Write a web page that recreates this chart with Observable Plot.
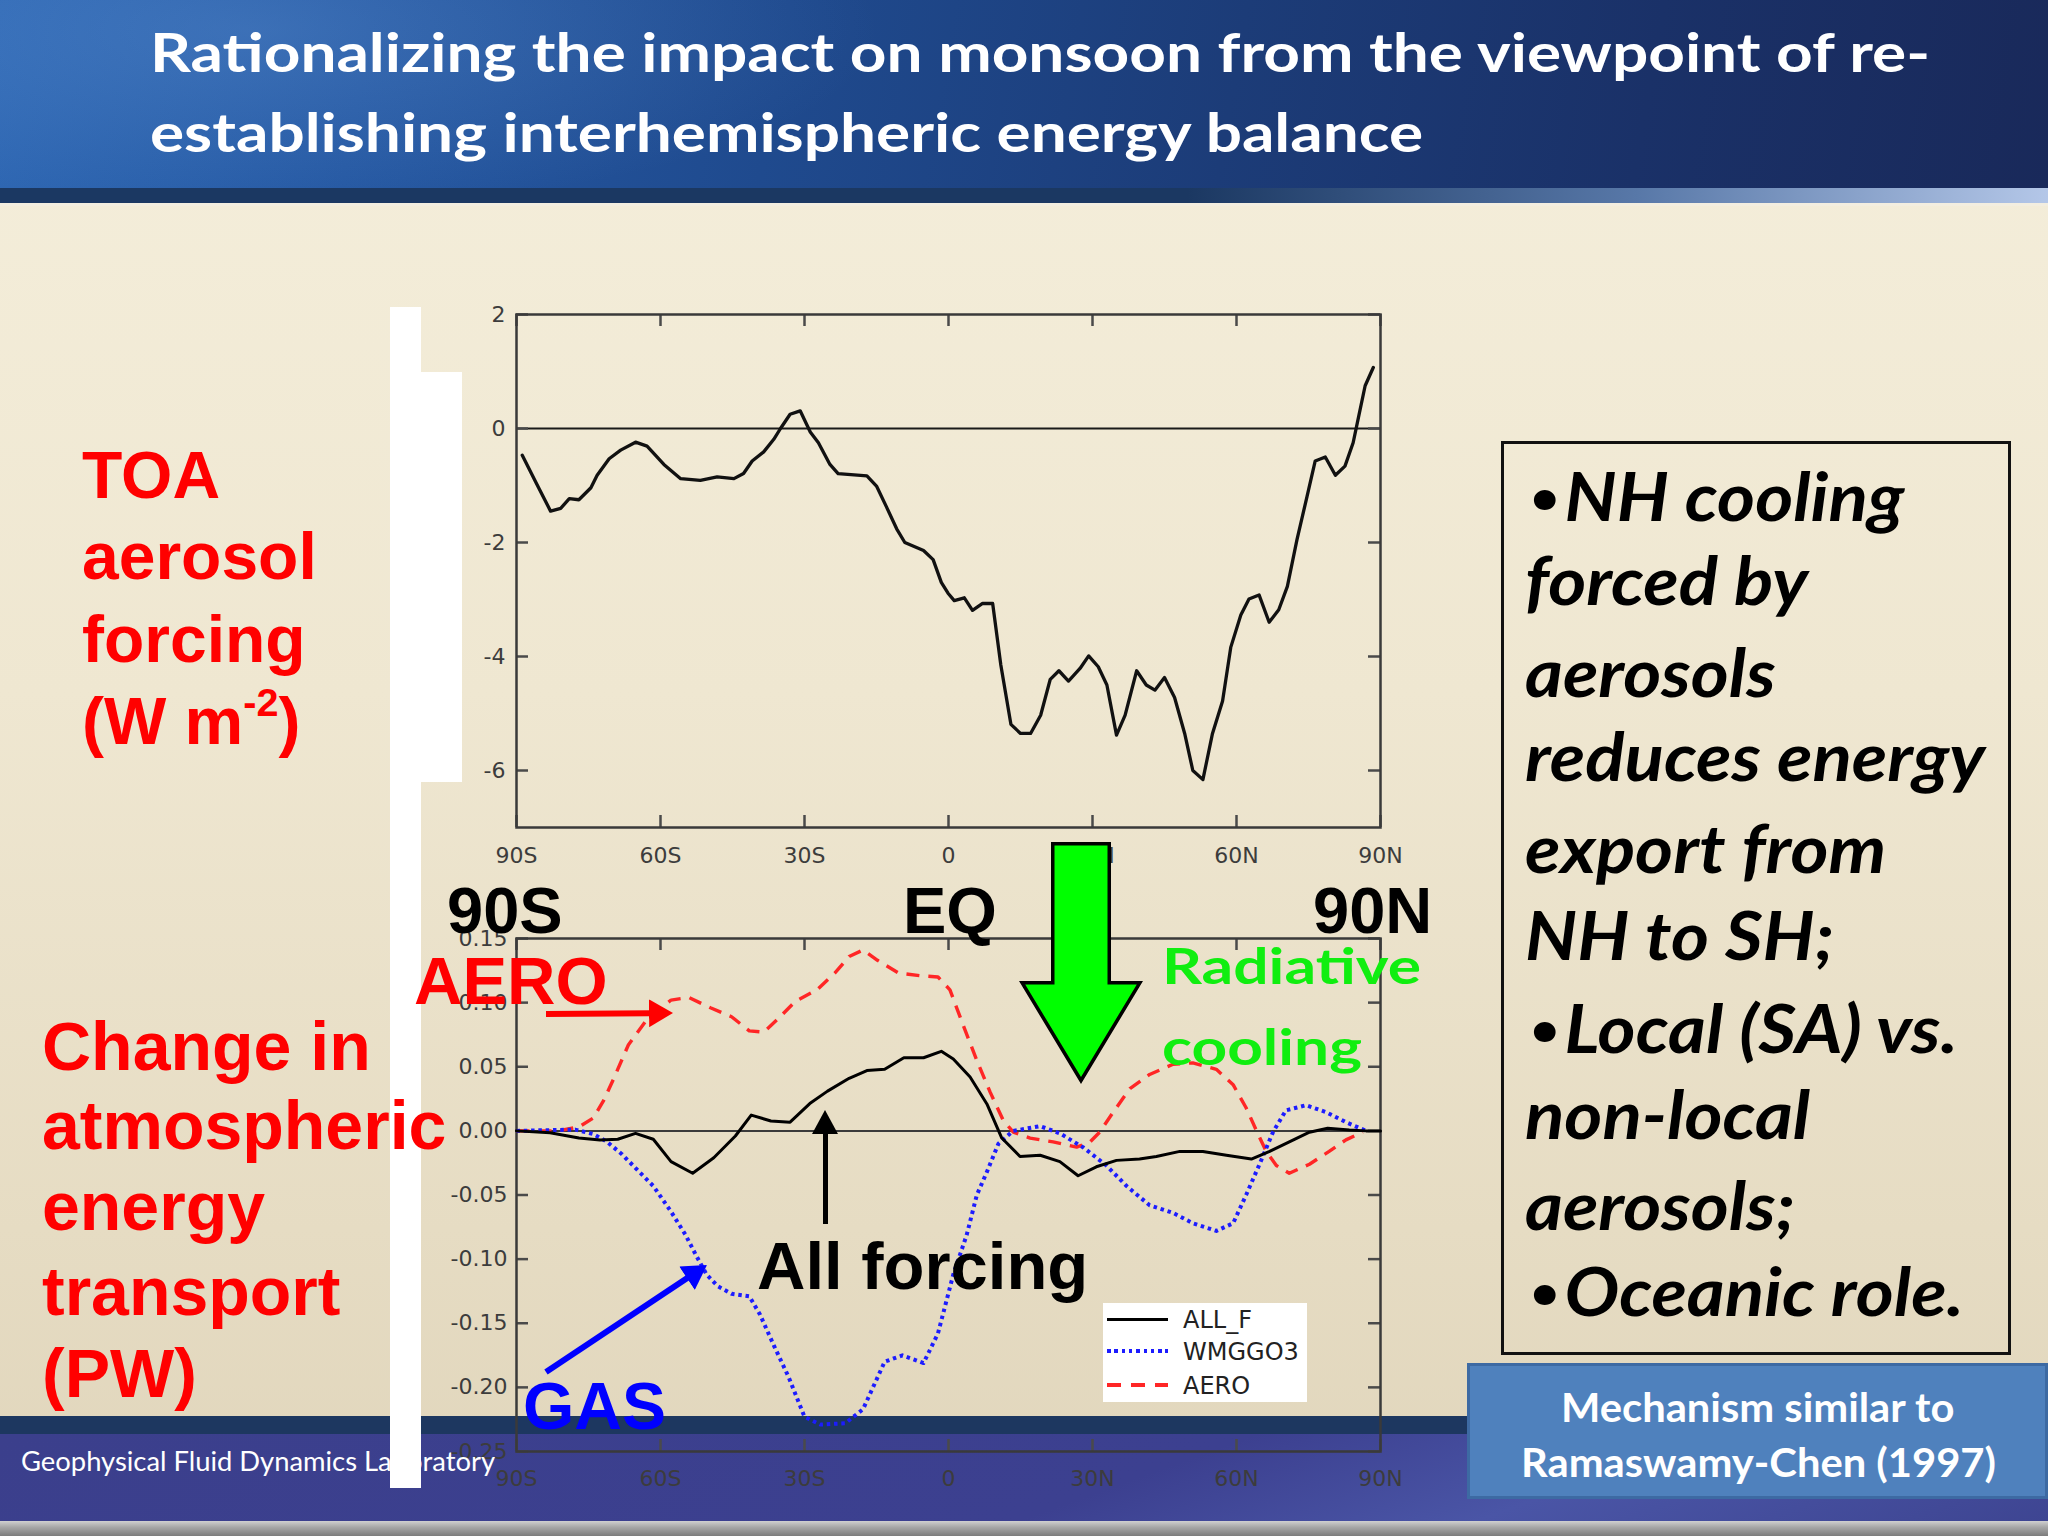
<!DOCTYPE html>
<html><head><meta charset="utf-8">
<script src="https://cdn.jsdelivr.net/npm/d3@7"></script>
<script src="https://cdn.jsdelivr.net/npm/@observablehq/plot@0.6"></script>
<style>
html,body{margin:0;padding:0;}
body{width:2048px;height:1536px;overflow:hidden;position:relative;
 background:linear-gradient(180deg,#f5efdc 0%,#efe7d1 45%,#e6dcc3 80%,#e0d5bb 100%);}
.t{position:absolute;white-space:nowrap;line-height:1;transform-origin:0 0;}
.bl{display:inline-block;width:0;height:0;vertical-align:baseline;}
</style></head><body>
<script>
// ---------------- DATA ----------------
const latTicks  = [-90, -60, -30, 0, 30, 60, 90];
const latLabels = ["90S", "60S", "30S", "0", "30N", "60N", "90N"];
const topYTicks = [2, 0, -2, -4, -6];
const botYTicks = [0.15, 0.10, 0.05, 0.00, -0.05, -0.10, -0.15, -0.20, -0.25];

// TOA aerosol forcing (W m-2)
const topLat = [-88.8,-86,-82.9,-80.8,-79,-77,-74.5,-73.2,-70.7,-68.3,-65.2,-62.8,-59.3,-55.8,-51.7,-48.2,-44.7,-42.7,-40.9,-38.5,-36.4,-35,-33,-30.9,-28.8,-27.1,-24.7,-23,-17,-15,-12.9,-10.8,-9.1,-5.2,-3.2,-1.5,-0.1,1.2,3.3,5,7.1,9.2,10.9,13,15,17.1,19.2,21.2,23,25,27.4,29.2,31.2,33,35,36.8,39.2,41.2,43,45,47.1,49.2,50.9,53,55,57.1,58.8,60.9,62.6,64.7,66.8,68.8,70.6,72.6,74.7,76.4,78.5,80.6,82.6,84.3,85.4,86.8,88.5];
const topVal = [-0.47,-0.94,-1.45,-1.40,-1.23,-1.25,-1.04,-0.82,-0.53,-0.38,-0.24,-0.31,-0.63,-0.88,-0.91,-0.85,-0.88,-0.79,-0.57,-0.41,-0.19,0,0.25,0.31,-0.06,-0.25,-0.63,-0.79,-0.83,-1.01,-1.38,-1.76,-2.0,-2.14,-2.30,-2.70,-2.89,-3.02,-2.97,-3.19,-3.07,-3.07,-4.15,-5.19,-5.35,-5.35,-5.03,-4.40,-4.25,-4.43,-4.21,-3.99,-4.18,-4.50,-5.38,-5.03,-4.25,-4.50,-4.59,-4.37,-4.72,-5.35,-6.0,-6.16,-5.35,-4.78,-3.84,-3.27,-2.99,-2.92,-3.40,-3.18,-2.77,-1.95,-1.19,-0.57,-0.50,-0.82,-0.66,-0.25,0.19,0.75,1.07];

// Change in atmospheric energy transport (PW)
const allLat = [-90,-83,-77,-72.6,-68.9,-65.2,-61.5,-57.8,-53.3,-48.9,-44.4,-41.1,-37,-33,-28.9,-25.2,-20.7,-17,-13.3,-9.3,-5.2,-1.5,1,4.5,8,11.1,14.9,19.1,23.2,27,30.8,35,39.8,43.3,48.2,53,57.9,63.1,66.9,71,75.2,79,83.5,87,90];
const allVal = [0,-0.0015,-0.0056,-0.0071,-0.0065,-0.0019,-0.0065,-0.024,-0.033,-0.021,-0.004,0.0123,0.0077,0.0068,0.0213,0.031,0.041,0.047,0.048,0.057,0.057,0.062,0.056,0.042,0.021,-0.0056,-0.020,-0.019,-0.024,-0.035,-0.028,-0.023,-0.022,-0.020,-0.016,-0.016,-0.019,-0.022,-0.016,-0.0086,-0.001,0.002,0.0006,0,0];

const gasLat = [-90,-83,-77.8,-74,-71.1,-68.1,-65.2,-61.5,-57.8,-54.8,-52.6,-50.4,-48.1,-45.2,-41.5,-39.3,-36.3,-33.3,-30,-26.7,-21.5,-17.8,-13.3,-9.6,-5.2,-2.2,1,3.8,5.9,8,10.4,13.5,19.1,23.2,28.1,32.9,37.1,41.9,46.8,50.9,55.8,59.3,62,64.8,67.6,70.3,74.5,78.7,82.8,87];
const gasVal = [0,0.0006,0.001,-0.0025,-0.0086,-0.018,-0.029,-0.043,-0.063,-0.081,-0.097,-0.112,-0.121,-0.127,-0.129,-0.143,-0.168,-0.192,-0.223,-0.229,-0.228,-0.217,-0.180,-0.175,-0.181,-0.158,-0.112,-0.081,-0.050,-0.032,-0.010,0,0.0037,-0.0019,-0.013,-0.027,-0.043,-0.058,-0.064,-0.072,-0.078,-0.072,-0.050,-0.026,-0.001,0.016,0.020,0.0145,0.0068,0];

const aeroLat = [-90,-81.5,-77,-74,-71.8,-69.6,-66.7,-63,-57.8,-54.1,-49.6,-45.2,-41.5,-38.5,-35.6,-31.9,-27.4,-23.7,-20.7,-17.8,-14.8,-10.4,-5.9,-2.2,0.3,3.1,5.9,8.7,11.4,13.5,17,21.8,26.7,29.5,31.5,34.3,37.8,41.9,46.8,50.9,55.8,59.3,62,64.1,66.2,68.3,71,75.2,79.3,82.8,86.3];
const aeroVal = [0,0,0.003,0.010,0.024,0.042,0.067,0.086,0.102,0.104,0.096,0.089,0.078,0.077,0.087,0.101,0.110,0.123,0.136,0.141,0.133,0.123,0.121,0.120,0.110,0.082,0.055,0.030,0.0083,-0.001,-0.0056,-0.0086,-0.0127,-0.0086,-0.001,0.0145,0.033,0.044,0.052,0.053,0.048,0.036,0.018,0.0006,-0.016,-0.027,-0.033,-0.026,-0.016,-0.007,-0.001];

const seriesNames = ["ALL_F", "WMGGO3", "AERO"];

// ---------------- HELPERS ----------------
function box(x, y, w, h, style) {
  const d = document.createElement("div");
  d.style.cssText = `position:absolute;left:${x}px;top:${y}px;width:${w}px;height:${h}px;${style}`;
  document.body.appendChild(d);
  return d;
}
function text(html, o) {
  const el = document.createElement("div");
  el.className = "t";
  el.style.font = o.font;
  el.style.color = o.color || "#000";
  el.innerHTML = html + '<span class="bl"></span>';
  el.style.left = "0px"; el.style.top = "0px";
  document.body.appendChild(el);
  const r = el.getBoundingClientRect();
  const b = el.querySelector(".bl").getBoundingClientRect().bottom - r.top;
  const w = r.width;
  const sx = o.scale != null ? o.scale : (o.width ? o.width / w : 1);
  const left = o.anchor === "middle" ? o.x - (w * sx) / 2 : o.x;
  el.style.left = left + "px";
  el.style.top = (o.y - b) + "px";
  el.style.transform = `scaleX(${sx})`;
  return {el, w, sx};
}
function measure(html, font) {
  const el = document.createElement("div");
  el.className = "t"; el.style.font = font; el.innerHTML = html;
  document.body.appendChild(el);
  const w = el.getBoundingClientRect().width;
  el.remove();
  return w;
}
function arrow(x1, y1, x2, y2, color, lw, hl, hw) {
  const dx = x2 - x1, dy = y2 - y1, L = Math.hypot(dx, dy), ang = Math.atan2(dy, dx) * 180 / Math.PI;
  const d = document.createElement("div");
  d.style.cssText = `position:absolute;left:${x1}px;top:${y1 - hw / 2}px;width:${L}px;height:${hw}px;transform-origin:0 50%;transform:rotate(${ang}deg);`;
  const s = document.createElement("div");
  s.style.cssText = `position:absolute;left:0;top:${(hw - lw) / 2}px;width:${L - hl + 2}px;height:${lw}px;background:${color};`;
  const h = document.createElement("div");
  h.style.cssText = `position:absolute;left:${L - hl}px;top:0;width:${hl}px;height:${hw}px;background:${color};clip-path:polygon(0 0,100% 50%,0 100%);`;
  d.append(s, h);
  document.body.appendChild(d);
}

// ---------------- SLIDE BACKGROUND ----------------
box(0, 0, 2048, 188, "background:linear-gradient(100deg,#2e67b3 0%,#2558a2 18%,#1f4a8e 38%,#1c3c78 60%,#1a3168 80%,#19295a 100%);");
box(0, 0, 2048, 188, "background:radial-gradient(ellipse 900px 260px at 250px 30px,rgba(120,170,230,0.25),rgba(0,0,0,0) 70%);");
box(0, 188, 2048, 15, "background:linear-gradient(90deg,#1b3862 0%,#1b3862 58%,#5878a8 80%,#b4c7e8 100%);");
box(0, 203, 2048, 3, "background:#f3eee0;");
// footer
box(0, 1416, 2048, 18, "background:#1d3760;");
box(0, 1434, 2048, 87, "background:linear-gradient(160deg,#3b3f8c 0%,#3c4090 55%,#4a55a6 75%,#3e4592 100%);");
box(0, 1521, 2048, 15, "background:linear-gradient(180deg,#d0d0d0 0%,#a8a8a8 40%,#7c7c7c 100%);");
// white bars
box(390, 307, 31, 1181, "background:#ffffff;");
box(420, 372, 42, 410, "background:#ffffff;");

// ---------------- CHARTS ----------------
const W = 1000, H = 600, ML = 96, MR = 40;
const innerW = W - ML - MR;
const TICK = 12;
const chartStyle = {background: "transparent", fontFamily: "'DejaVu Sans', sans-serif", fontSize: "22px", color: "#3c3c3c", overflow: "visible"};
const latFmt = d => latLabels[latTicks.indexOf(d)];

function frameTicks(yTicks, innerH) {
  const st = {stroke: "#4a4a4a", strokeWidth: 2.5};
  return [
    Plot.tickY(yTicks, {y: d => d, insetRight: innerW - TICK, ...st}),
    Plot.tickY(yTicks, {y: d => d, insetLeft: innerW - TICK, ...st}),
    Plot.tickX(latTicks, {x: d => d, insetBottom: innerH - TICK, ...st}),
    Plot.tickX(latTicks, {x: d => d, insetTop: innerH - TICK, ...st}),
    Plot.frame({stroke: "#3a3a3a", strokeWidth: 2.5})
  ];
}

// top chart
const MT1 = 24, MB1 = 63, innerH1 = H - MT1 - MB1;
const topRows = topLat.map((lat, i) => ({lat, val: topVal[i]}));
const topChart = Plot.plot({
  width: W, height: H, marginLeft: ML, marginRight: MR, marginTop: MT1, marginBottom: MB1,
  x: {domain: [-90, 90]},
  y: {domain: [-7, 2]},
  style: chartStyle,
  marks: [
    Plot.ruleY([0], {stroke: "#1a1a1a", strokeWidth: 2}),
    ...frameTicks(topYTicks, innerH1),
    Plot.line(topRows, {x: "lat", y: "val", stroke: "#111", strokeWidth: 3.3}),
    Plot.axisY({ticks: topYTicks, tickSize: 0, tickPadding: 11, tickFormat: d => String(d), label: null}),
    Plot.axisX({ticks: latTicks, tickSize: 0, tickPadding: 20, tickFormat: latFmt, label: null})
  ]
});
const c1 = box(420, 290, W, H, "");
c1.appendChild(topChart);

// bottom chart
const MT2 = 28, MB2 = 59, innerH2 = H - MT2 - MB2;
const allRows = allLat.map((lat, i) => ({lat, val: allVal[i]}));
const gasRows = gasLat.map((lat, i) => ({lat, val: gasVal[i]}));
const aeroRows = aeroLat.map((lat, i) => ({lat, val: aeroVal[i]}));
const botChart = Plot.plot({
  width: W, height: H, marginLeft: ML, marginRight: MR, marginTop: MT2, marginBottom: MB2,
  x: {domain: [-90, 90]},
  y: {domain: [-0.25, 0.15]},
  style: chartStyle,
  marks: [
    Plot.ruleY([0], {stroke: "#3a3a3a", strokeWidth: 2}),
    ...frameTicks(botYTicks, innerH2),
    Plot.line(aeroRows, {x: "lat", y: "val", stroke: "#ff2626", strokeWidth: 3.4, strokeDasharray: "13 9", strokeLinecap: "butt"}),
    Plot.line(gasRows, {x: "lat", y: "val", stroke: "#1c1cff", strokeWidth: 4, strokeDasharray: "3.5 3.8", strokeLinecap: "butt"}),
    Plot.line(allRows, {x: "lat", y: "val", stroke: "#000", strokeWidth: 3}),
    Plot.axisY({ticks: botYTicks, tickSize: 0, tickPadding: 9, tickFormat: d => d.toFixed(2), label: null}),
    Plot.axisX({ticks: latTicks, tickSize: 0, tickPadding: 19, tickFormat: latFmt, label: null})
  ]
});
const c2 = box(420, 910, W, H, "");
c2.appendChild(botChart);

// legend
box(1103, 1303, 204, 99, "background:#ffffff;");
const legendY = [1319, 1351, 1385];
box(1107, legendY[0] - 1.5, 61, 3, "background:#000;");
box(1107, legendY[1] - 2, 61, 4, "background:repeating-linear-gradient(90deg,#1c1cff 0 3.5px,transparent 3.5px 7.3px);");
box(1107, legendY[2] - 1.7, 61, 3.4, "background:repeating-linear-gradient(90deg,#ff2626 0 14px,transparent 14px 24px);");
seriesNames.forEach((n, i) => text(n, {font: "24px 'DejaVu Sans'", color: "#222", x: 1183, y: legendY[i] + 9}));

// ---------------- TITLE ----------------
const titleFont = "bold 54px Lato";
const t1 = text("Rationalizing the impact on monsoon from the viewpoint of re-", {font: titleFont, color: "#fff", x: 150, y: 72, width: 1780});
text("establishing interhemispheric energy balance", {font: titleFont, color: "#fff", x: 150, y: 152, scale: t1.sx});

// ---------------- LEFT LABELS ----------------
const red = "#ff0000";
const f1 = "bold 66px 'Liberation Sans'";
text("TOA", {font: f1, color: red, x: 82, y: 498});
text("aerosol", {font: f1, color: red, x: 82, y: 579});
text("forcing", {font: f1, color: red, x: 82, y: 662});
text('(W m<span style="font-size:0.6em;position:relative;top:-0.72em;">-2</span>)', {font: f1, color: red, x: 82, y: 744});
const f2 = "bold 68px 'Liberation Sans'";
["Change in", "atmospheric", "energy", "transport", "(PW)"].forEach((s, i) =>
  text(s, {font: f2, color: red, x: 42, y: [1070, 1149, 1230, 1315, 1397][i]}));

// ---------------- ANNOTATIONS ----------------
const f3 = "bold 65px 'Liberation Sans'";
text("90S", {font: f3, color: "#000", x: 447, y: 933});
text("EQ", {font: f3, color: "#000", x: 903, y: 933});
text("90N", {font: f3, color: "#000", x: 1313, y: 933});

// green block arrow
box(1015, 838, 132, 250, "background:#000;clip-path:polygon(36px 4px,96px 4px,96px 143px,128px 143px,66px 246px,4px 143px,36px 143px);");
box(1015, 838, 132, 250, "background:#00ff00;clip-path:polygon(39.5px 7.5px,92.5px 7.5px,92.5px 146.5px,121.8px 146.5px,66px 239px,10.2px 146.5px,39.5px 146.5px);");

text("Radiative", {font: "bold 50px Lato", color: "#10ee10", x: 1162, y: 984, width: 259});
text("cooling", {font: "bold 50px Lato", color: "#10ee10", x: 1162, y: 1065, width: 200});

text("AERO", {font: "bold 67px 'Liberation Sans'", color: red, x: 414, y: 1004});
arrow(546, 1014, 673, 1013, red, 6, 24, 28);
text("GAS", {font: "bold 66px 'Liberation Sans'", color: "#0000ff", x: 523, y: 1429});
arrow(546, 1372, 707, 1265, "#0000ff", 6, 24, 28);
text("All forcing", {font: "bold 67px 'Liberation Sans'", color: "#000", x: 757, y: 1289});
arrow(825, 1224, 825, 1110, "#000", 5, 24, 26);

// ---------------- RIGHT TEXT BOX ----------------
box(1501, 441, 510, 914, "border:3px solid #111;box-sizing:border-box;");
const bf = "italic bold 66px Lato";
const refW = measure("reduces energy", bf);
const bsx = 460 / refW;
const bul = '<span style="font-family:\'DejaVu Sans\';font-style:normal;font-size:0.85em">•</span>';
const bLines = [bul + "NH cooling", "forced by", "aerosols", "reduces energy", "export from", "NH to SH;", bul + "Local (SA) vs.", "non-local", "aerosols;", bul + "Oceanic role."];
const bBase = [521, 605, 697, 781, 873, 960, 1053, 1139, 1230, 1316];
bLines.forEach((s, i) => text(s, {font: bf, color: "#000", x: 1525, y: bBase[i], scale: bsx}));

// mechanism box
box(1467, 1363, 581, 136, "background:#4f81bd;border:3px solid #3d6aa3;box-sizing:border-box;");
const mf = "bold 41px Lato";
const mW = measure("Ramaswamy-Chen (1997)", mf);
const msx = 475 / mW;
text("Mechanism similar to", {font: mf, color: "#fff", x: 1758, y: 1422, anchor: "middle", scale: msx});
text("Ramaswamy-Chen (1997)", {font: mf, color: "#fff", x: 1758, y: 1477, anchor: "middle", scale: msx});

// footer text
text("Geophysical Fluid Dynamics Laboratory", {font: "27px Lato", color: "#fff", x: 21, y: 1471, width: 474});
</script>
</body></html>
